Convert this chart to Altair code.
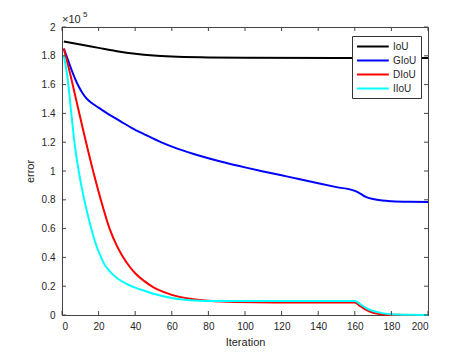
import altair as alt
import pandas as pd

# ---- data (error in units of 1e5) ----
methods = ["IoU", "GIoU", "DIoU", "IIoU"]
colors = ["#000000", "#0000ff", "#ff0000", "#00ffff"]

iou_x = [1, 10, 20, 30, 40, 50, 60, 80, 100, 150, 200]
iou_y = [1.90, 1.878, 1.855, 1.832, 1.814, 1.802, 1.795, 1.789, 1.786, 1.785, 1.785]

giou_x = [1, 3, 5, 7, 9, 11, 13, 15, 17, 20, 26, 32, 38, 45, 54, 63, 72, 81, 90,
          100, 110, 120, 130, 140, 150, 160, 163, 166, 170, 175, 180, 190, 200]
giou_y = [1.85, 1.78, 1.71, 1.645, 1.59, 1.545, 1.51, 1.485, 1.465, 1.44, 1.39,
          1.345, 1.30, 1.255, 1.20, 1.155, 1.118, 1.085, 1.055, 1.025, 0.997, 0.97,
          0.943, 0.915, 0.888, 0.862, 0.843, 0.82, 0.805, 0.795, 0.79, 0.786, 0.785]

diou_x = [1, 4, 8, 12, 17, 21, 26, 30, 33, 37, 40, 45, 50, 55, 60, 70, 80, 95,
          120, 140, 160, 163, 166, 170, 175, 180, 190, 200]
diou_y = [1.85, 1.70, 1.48, 1.26, 1.0, 0.81, 0.60, 0.48, 0.41, 0.335, 0.29, 0.235,
          0.192, 0.162, 0.14, 0.113, 0.099, 0.09, 0.087, 0.086, 0.086, 0.062,
          0.037, 0.016, 0.005, 0.001, 0.0, 0.0]

iiou_x = [1, 3, 5, 7, 9, 12, 16, 18, 21, 23, 26, 30, 35, 40, 45, 50, 60, 70, 80,
          100, 120, 140, 160, 163, 166, 170, 175, 180, 190, 200]
iiou_y = [1.80, 1.65, 1.41, 1.18, 1.01, 0.81, 0.60, 0.51, 0.41, 0.355, 0.305, 0.257,
          0.218, 0.19, 0.168, 0.148, 0.118, 0.103, 0.098, 0.098, 0.098, 0.098,
          0.098, 0.076, 0.05, 0.028, 0.013, 0.005, 0.001, 0.0]

x_ticks = [0, 20, 40, 60, 80, 100, 120, 140, 160, 180, 200]
y_ticks = [0, 0.2, 0.4, 0.6, 0.8, 1.0, 1.2, 1.4, 1.6, 1.8, 2.0]

rows = []
for name, xs, ys in [("IoU", iou_x, iou_y), ("GIoU", giou_x, giou_y),
                     ("DIoU", diou_x, diou_y), ("IIoU", iiou_x, iiou_y)]:
    for xv, yv in zip(xs, ys):
        rows.append({"Iteration": xv, "error": yv, "method": name})
df = pd.DataFrame(rows)

W, H = 366, 288
AX = "#444444"
TXT = "#262626"
FONT = "Liberation Sans"

x_scale = alt.Scale(domain=[0, 200], nice=False)
y_scale = alt.Scale(domain=[0, 2], nice=False)
x_axis = alt.Axis(values=x_ticks, title="Iteration", labelPadding=6, titlePadding=5)
y_axis = alt.Axis(values=y_ticks, format="~g", title="error", labelPadding=7, titlePadding=6)

lines = alt.Chart(df).mark_line(strokeWidth=2, interpolate="monotone").encode(
    x=alt.X("Iteration:Q", scale=x_scale, axis=x_axis),
    y=alt.Y("error:Q", scale=y_scale, axis=y_axis),
    color=alt.Color("method:N", scale=alt.Scale(domain=methods, range=colors),
                    legend=alt.Legend(orient="none", legendX=290, legendY=9, title=None,
                                      symbolType="M-1,0H4.8", symbolSize=120,
                                      symbolStrokeWidth=2, labelFontSize=10,
                                      labelFont=FONT, labelColor=TXT,
                                      strokeColor="#333333", fillColor="white",
                                      padding=4, labelOffset=24, rowPadding=2,
                                      cornerRadius=0)),
)

xt = pd.DataFrame({"Iteration": x_ticks})
yt = pd.DataFrame({"error": y_ticks})
TL = 4
bottom_ticks = alt.Chart(xt).mark_rule(color=AX, strokeWidth=1).encode(
    x=alt.X("Iteration:Q", scale=x_scale, axis=x_axis), y=alt.value(H), y2=alt.value(H - TL))
top_ticks = alt.Chart(xt).mark_rule(color=AX, strokeWidth=1).encode(
    x=alt.X("Iteration:Q", scale=x_scale, axis=x_axis), y=alt.value(0), y2=alt.value(TL))
left_ticks = alt.Chart(yt).mark_rule(color=AX, strokeWidth=1).encode(
    y=alt.Y("error:Q", scale=y_scale, axis=y_axis), x=alt.value(0), x2=alt.value(TL))
right_ticks = alt.Chart(yt).mark_rule(color=AX, strokeWidth=1).encode(
    y=alt.Y("error:Q", scale=y_scale, axis=y_axis), x=alt.value(W), x2=alt.value(W - TL))

one = pd.DataFrame({"a": [0]})
exp_base = alt.Chart(one).mark_text(align="left", baseline="alphabetic", font=FONT,
                                    fontSize=11, color=TXT).encode(
    x=alt.value(0), y=alt.value(-4), text=alt.value("×10"))
exp_sup = alt.Chart(one).mark_text(align="left", baseline="alphabetic", font=FONT,
                                   fontSize=8, color=TXT).encode(
    x=alt.value(21), y=alt.value(-10), text=alt.value("5"))

chart = alt.layer(lines, bottom_ticks, top_ticks, left_ticks, right_ticks,
                  exp_base, exp_sup).properties(
    width=W, height=H,
    autosize=alt.AutoSizeParams(type="none"),
    padding={"left": 54, "top": 19, "right": 30, "bottom": 32},
    background="white",
).configure_view(stroke=AX, strokeWidth=1).configure_axis(
    domainColor=AX, domainWidth=1, ticks=False, grid=False,
    labelFont=FONT, labelFontSize=10, labelColor=TXT,
    titleFont=FONT, titleFontSize=11, titleFontWeight="normal", titleColor=TXT,
)

chart.save("out.html", embed_options={"renderer": "svg", "actions": False})
